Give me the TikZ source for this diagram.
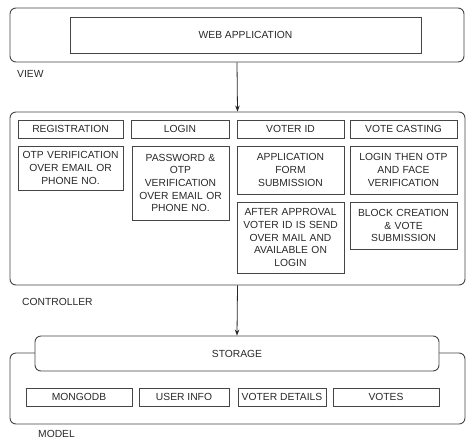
\documentclass[tikz,border=0pt]{standalone}
\usepackage{fontspec}
\setmainfont{Liberation Sans}
\usetikzlibrary{arrows.meta}
\definecolor{ln}{HTML}{454545}
\definecolor{tx}{HTML}{282828}
\begin{document}
\begin{tikzpicture}[x=1pt,y=-1pt,
  every node/.style={font=\fontsize{10.3}{12.6}\selectfont, text=tx},
  outer/.style={draw=ln, line width=0.9pt, rounded corners=6pt, minimum width=#1},
  bx/.style={draw=ln, line width=0.8pt, align=center, inner sep=1pt},
  lbl/.style={anchor=west, inner sep=0pt},
  arr/.style={draw=black!85, line width=0.8pt, -{Stealth[length=6pt,width=4.5pt]}}
]
\useasboundingbox (0,0) rectangle (474,440);
% VIEW
\node[outer=454pt, minimum height=54pt] (view) at (237,35) {};
\node[bx, minimum width=351pt, minimum height=36pt] (web) at (245.5,35) {WEB APPLICATION};
\node[lbl] (viewl) at (17,74) {VIEW};
% CONTROLLER
\node[outer=455pt, minimum height=173pt] (ctrl) at (237.5,198.5) {};
\draw[arr] (view.south) -- (ctrl.north);
\node[bx, minimum width=105pt, minimum height=18pt] (reg) at (70.5,129) {REGISTRATION};
\node[bx, minimum width=98pt, minimum height=18pt] (login) at (180,129) {LOGIN};
\node[bx, minimum width=107pt, minimum height=18pt] (vid) at (290.5,129) {VOTER ID};
\node[bx, minimum width=107pt, minimum height=18pt] (vcast) at (403.5,129) {VOTE CASTING};
\node[bx, minimum width=105pt, minimum height=44pt, text width=103pt] (regb) at (70.5,168) {OTP VERIFICATION\\OVER EMAIL OR\\PHONE NO.};
\node[bx, minimum width=97pt, minimum height=74pt, text width=95pt] (loginb) at (180.5,183) {PASSWORD \&\\OTP\\VERIFICATION\\OVER EMAIL OR\\PHONE NO.};
\node[bx, minimum width=107pt, minimum height=48pt, text width=105pt] (appb) at (290.5,170) {APPLICATION\\FORM\\SUBMISSION};
\node[bx, minimum width=107pt, minimum height=48pt, text width=105pt] (otpb) at (403.5,170) {LOGIN THEN OTP\\AND FACE\\VERIFICATION};
\node[bx, minimum width=107pt, minimum height=71pt, text width=105pt] (aftb) at (290.5,237.5) {AFTER APPROVAL\\VOTER ID IS SEND\\OVER MAIL AND\\AVAILABLE ON\\LOGIN};
\node[bx, minimum width=107pt, minimum height=47pt, text width=105pt] (blockb) at (403.5,225.5) {BLOCK CREATION\\\& VOTE\\SUBMISSION};
\node[lbl] (ctrll) at (22,302) {CONTROLLER};
% MODEL
\node[outer=455pt, minimum height=71pt] (model) at (237.5,388.5) {};
\node[outer=404pt, minimum height=35pt, fill=white] (storage) at (237,353.5) {STORAGE};
\draw[arr] (ctrl.south) -- (storage.north);
\node[bx, minimum width=106pt, minimum height=18pt] (mongo) at (79,397) {MONGODB};
\node[bx, minimum width=90pt, minimum height=18pt] (user) at (184,397) {USER INFO};
\node[bx, minimum width=88pt, minimum height=18pt] (vdet) at (282,397) {VOTER DETAILS};
\node[bx, minimum width=106pt, minimum height=18pt] (votes) at (386,397) {VOTES};
\node[lbl] (modell) at (38,433.5) {MODEL};
\end{tikzpicture}
\end{document}
